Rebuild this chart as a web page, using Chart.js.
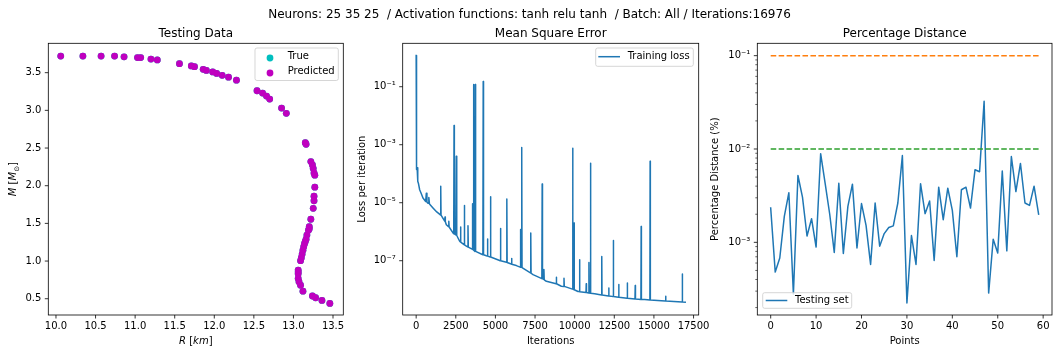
<!DOCTYPE html>
<html><head><meta charset="utf-8">
<script src="https://cdn.jsdelivr.net/npm/chart.js@4.4.0/dist/chart.umd.min.js"></script>
<style>
html,body{margin:0;padding:0;background:#fff;}
#wrap{position:relative;width:1059px;height:357px;overflow:hidden;background:#fff;}
canvas{position:absolute;left:0;top:0;}
</style></head><body>
<div id="wrap">
<canvas id="c1" width="1059" height="357"></canvas>
<canvas id="c2" width="1059" height="357"></canvas>
<canvas id="c3" width="1059" height="357"></canvas>
</div>
<script>
const FONT = "'DejaVu Sans', sans-serif";
const figTitle = "Neurons: 25 35 25  / Activation functions: tanh relu tanh  / Batch: All / Iterations:16976";

// ---------- Panel 1: Testing Data ----------
const predR = [10.06,10.34,10.57,10.74,10.86,11.03,11.07,11.20,11.28,11.56,11.71,11.75,11.86,11.90,11.98,12.03,12.10,12.18,12.28,12.54,12.61,12.66,12.70,12.85,12.91,
  13.15,13.16,13.22,13.24,13.25,13.26,13.27,13.27,13.26,13.26,13.25,13.22,13.20,13.20,13.19,13.17,13.16,13.15,13.14,13.13,13.12,13.11,13.10,13.09,
  13.06,13.06,13.06,13.06,13.07,13.09,13.12,13.24,13.28,13.36,13.46];
const predM = [3.72,3.72,3.72,3.72,3.71,3.70,3.70,3.68,3.67,3.62,3.59,3.58,3.545,3.53,3.51,3.49,3.465,3.44,3.40,3.26,3.23,3.19,3.15,3.03,2.96,
  2.57,2.55,2.32,2.275,2.23,2.17,2.14,1.98,1.86,1.80,1.70,1.555,1.456,1.43,1.41,1.345,1.29,1.26,1.23,1.19,1.145,1.093,1.044,1.005,
  0.88,0.855,0.83,0.77,0.725,0.68,0.60,0.536,0.513,0.478,0.438];
const trueR = [10.06,10.34,10.57,10.74,10.86,11.03,11.07,11.20,11.28,11.56,11.71,11.75,11.86,11.90,11.98,12.03,12.10,12.18,12.28,12.54,12.61,12.66,12.70,12.85,12.91,
  13.15,13.16,13.22,13.24,13.25,13.26,13.27,13.27,13.26,13.26,13.25,13.22,13.20,13.20,13.19,13.17,13.16,13.15,13.14,13.13,13.12,13.11,13.10,13.09,
  13.06,13.06,13.06,13.06,13.07,13.09,13.12,13.24,13.28,13.36,13.46];
const trueM = [3.72,3.72,3.72,3.72,3.71,3.70,3.70,3.68,3.67,3.62,3.59,3.58,3.545,3.53,3.51,3.49,3.465,3.44,3.40,3.26,3.23,3.19,3.15,3.03,2.96,
  2.57,2.55,2.32,2.275,2.23,2.17,2.14,1.98,1.86,1.80,1.70,1.555,1.456,1.43,1.41,1.345,1.29,1.26,1.23,1.19,1.145,1.093,1.044,1.005,
  0.88,0.855,0.83,0.77,0.725,0.68,0.60,0.536,0.513,0.478,0.438];
const p1XTicks = [10.0,10.5,11.0,11.5,12.0,12.5,13.0,13.5];
const p1YTicks = [0.5,1.0,1.5,2.0,2.5,3.0,3.5];

// ---------- Panel 2: Mean Square Error ----------
const mseIter = [0,4,8,13,18,24,32,40,53,62,85,116,150,221,300,431,600,641,680,760,800,840,1062,1300,
  1530,1550,1570,1800,1820,1840,1904,2040,2060,2080,2324,2370,2390,2410,2500,2530,2560,2745,2780,2800,2820,
  3020,3040,3060,3166,3250,3270,3290,3530,3550,3570,3600,3620,3640,3710,3730,3750,4210,4230,4250,4428,
  4480,4500,4520,4670,4690,4710,5269,5300,5320,5340,5700,5720,5740,6000,6020,6040,6321,6560,6580,6600,
  6640,6660,6680,7210,7230,7250,7373,7930,7950,7970,8040,8060,8080,8215,8830,8843,8860,9160,9310,9327,9345,
  9860,9875,9890,9945,9960,9975,10210,10295,10310,10325,10715,10730,10745,10885,10900,10915,10985,11000,11015,
  11263,11695,11710,11725,12135,12150,12165,12317,12425,12440,12455,12765,12780,12795,13305,13320,13335,
  13805,13820,13835,14180,14195,14210,14418,14745,14760,14775,15472,15725,15740,15755,16775,16790,16805,16976];
const mseLoss = [1.2,3e-3,5e-2,1.5e-3,8e-3,8e-4,3e-3,4e-4,1.4e-4,1.6e-4,7e-5,5.5e-5,4.5e-5,2.8e-5,2.2e-5,1.45e-5,1.1e-5,2.1e-5,1.05e-5,9.5e-6,1.5e-5,9e-6,6.6e-6,4.8e-6,
  3.8e-6,3.7e-5,3.7e-6,2.3e-6,3.2e-6,2.2e-6,1.74e-6,1.5e-6,2.3e-6,1.45e-6,9.1e-7,8.6e-7,4.6e-3,8.4e-7,7.8e-7,4e-4,7.4e-7,4.7e-7,4.5e-7,1.45e-6,4.4e-7,
  3.6e-7,8e-6,3.5e-7,3.2e-7,3.0e-7,1.6e-6,2.95e-7,2.5e-7,9.3e-6,2.45e-7,2.4e-7,0.12,2.3e-7,2.1e-7,0.12,2.1e-7,1.6e-7,0.15,1.6e-7,1.48e-7,
  1.45e-7,5.6e-7,1.44e-7,1.35e-7,1.6e-5,1.34e-7,1.02e-7,1.0e-7,1.3e-6,1.0e-7,8.8e-8,1.35e-5,8.7e-8,7.7e-8,1.2e-7,7.6e-8,6.8e-8,6.0e-8,1.2e-6,6.0e-8,
  5.9e-8,8e-4,5.8e-8,3.8e-8,9e-7,3.7e-8,3.3e-8,2.4e-8,4.4e-5,2.4e-8,2.3e-8,5e-8,2.2e-8,1.95e-8,1.6e-8,2.7e-8,1.6e-8,1.32e-8,1.3e-8,2.5e-8,1.3e-8,
  1.05e-8,7.6e-4,1.05e-8,1.0e-8,2e-6,1.0e-8,8.7e-9,8.6e-9,1.07e-7,8.5e-9,8.0e-9,1.6e-8,8.0e-9,7.7e-9,8.7e-8,7.7e-9,7.6e-9,2.3e-4,7.5e-9,
  7.2e-9,6.6e-9,1.4e-7,6.6e-9,6.1e-9,1.15e-8,6.1e-9,5.9e-9,5.8e-9,5e-7,5.8e-9,5.5e-9,1.5e-8,5.5e-9,5.1e-9,1.7e-8,5.1e-9,
  4.8e-9,1.4e-8,4.8e-9,4.6e-9,1.5e-6,4.6e-9,4.6e-9,4.4e-9,2.7e-4,4.4e-9,4.2e-9,4.1e-9,5.9e-9,4.1e-9,3.8e-9,3.5e-8,3.8e-9,3.7e-9];
const p2XTicks = [0,2500,5000,7500,10000,12500,15000,17500];
const p2YTicks = [1e-7,1e-5,1e-3,1e-1];

// ---------- Panel 3: Percentage Distance ----------
const pctPoints = [0,1,2,3,4,5,6,7,8,9,10,11,12,13,14,15,16,17,18,19,20,21,22,23,24,25,26,27,28,29,
  30,31,32,33,34,35,36,37,38,39,40,41,42,43,44,45,46,47,48,49,50,51,52,53,54,55,56,57,58,59];
const pctDist = [2.33e-3,4.8e-4,6.8e-4,1.9e-3,3.4e-3,2.8e-4,5.2e-3,3.05e-3,1.17e-3,1.79e-3,
  8.9e-4,8.9e-3,4.25e-3,2.0e-3,7.8e-4,4.3e-3,7.6e-4,2.43e-3,4.2e-3,8.7e-4,
  2.6e-3,1.52e-3,5.8e-4,2.64e-3,9.1e-4,1.24e-3,1.44e-3,1.5e-3,2.64e-3,8.5e-3,
  2.24e-4,1.18e-3,5.8e-4,4.25e-3,2.03e-3,2.77e-3,6.4e-4,3.9e-3,1.75e-3,3.8e-3,
  2.2e-3,7.0e-4,3.66e-3,3.9e-3,2.33e-3,6.0e-3,5.7e-3,3.24e-2,2.86e-4,1.08e-3,
  7.7e-4,5.8e-3,8.1e-4,8.3e-3,3.5e-3,7.0e-3,2.64e-3,2.49e-3,4.0e-3,2.0e-3];
const limitX = [0,59];
const limitHigh = [0.1,0.1];
const limitLow = [0.01,0.01];
const p3XTicks = [0,10,20,30,40,50,60];
const p3YTicks = [1e-3,1e-2,1e-1];
const p3YMinor = [2e-4,3e-4,4e-4,5e-4,6e-4,7e-4,8e-4,9e-4,2e-3,3e-3,4e-3,5e-3,6e-3,7e-3,8e-3,9e-3,2e-2,3e-2,4e-2,5e-2,6e-2,7e-2,8e-2,9e-2];

// ---------- helpers ----------
Chart.defaults.font.family = FONT;
const SUP = {'-':'\u207B','0':'\u2070','1':'\u00B9','2':'\u00B2','3':'\u00B3','4':'\u2074','5':'\u2075','6':'\u2076','7':'\u2077','8':'\u2078','9':'\u2079'};
function powLabel(v){ const e = Math.round(Math.log10(v)); return '10' + String(e).split('').map(c=>SUP[c]).join(''); }

function fontOf(p, base){ const size = p.sub ? base*0.7 : base; return (p.it ? 'italic ' : '') + size + 'px ' + FONT; }
function drawRich(ctx, parts, tx, ty, base, rotate){
  ctx.save();
  ctx.translate(tx, ty);
  if (rotate) ctx.rotate(-Math.PI/2);
  let w = 0;
  for (const p of parts){ ctx.font = fontOf(p, base); w += ctx.measureText(p.t).width; }
  let x = -w/2;
  ctx.textAlign = 'left'; ctx.textBaseline = 'alphabetic'; ctx.fillStyle = '#000';
  for (const p of parts){ ctx.font = fontOf(p, base); ctx.fillText(p.t, x, p.sub ? base*0.22 : 0); x += ctx.measureText(p.t).width; }
  ctx.restore();
}
function legendBox(ctx, x0, y0, x1, y1){
  const r = 2;
  ctx.save();
  ctx.beginPath();
  ctx.moveTo(x0+r,y0); ctx.lineTo(x1-r,y0); ctx.arcTo(x1,y0,x1,y0+r,r);
  ctx.lineTo(x1,y1-r); ctx.arcTo(x1,y1,x1-r,y1,r);
  ctx.lineTo(x0+r,y1); ctx.arcTo(x0,y1,x0,y1-r,r);
  ctx.lineTo(x0,y0+r); ctx.arcTo(x0,y0,x0+r,y0,r);
  ctx.closePath();
  ctx.fillStyle = 'rgba(255,255,255,0.8)'; ctx.fill();
  ctx.strokeStyle = 'rgba(204,204,204,0.8)'; ctx.lineWidth = 1; ctx.stroke();
  ctx.restore();
}
function legendText(ctx, t, x, y){
  ctx.save(); ctx.font = '10px ' + FONT; ctx.fillStyle = '#000'; ctx.textAlign='left'; ctx.textBaseline='middle';
  ctx.fillText(t, x, y); ctx.restore();
}

function makeDeco(cfg){
  return {
    id: 'deco',
    afterDraw(chart){
      const ctx = chart.ctx, a = chart.chartArea, xs = chart.scales.x, ys = chart.scales.y;
      ctx.save();
      ctx.strokeStyle = '#000'; ctx.lineWidth = 0.8;
      ctx.beginPath();
      xs.ticks.forEach(t => { const p = xs.getPixelForValue(t.value); ctx.moveTo(p, a.bottom); ctx.lineTo(p, a.bottom + 3.5); });
      ys.ticks.forEach(t => { const p = ys.getPixelForValue(t.value); ctx.moveTo(a.left, p); ctx.lineTo(a.left - 3.5, p); });
      ctx.stroke();
      if (cfg.yMinor){
        ctx.lineWidth = 0.6; ctx.beginPath();
        cfg.yMinor.forEach(v => { const p = ys.getPixelForValue(v); ctx.moveTo(a.left, p); ctx.lineTo(a.left - 2, p); });
        ctx.stroke();
      }
      ctx.lineWidth = 0.8;
      ctx.strokeRect(a.left, a.top, a.right - a.left, a.bottom - a.top);
      // title
      ctx.fillStyle = '#000'; ctx.font = '12px ' + FONT; ctx.textAlign = 'center'; ctx.textBaseline = 'alphabetic';
      ctx.fillText(cfg.title, (a.left + a.right)/2, 36.8);
      if (cfg.figTitle) ctx.fillText(cfg.figTitle, 529.5, 18.3);
      // axis labels
      drawRich(ctx, cfg.xlabel, (a.left + a.right)/2, 344, 10, false);
      drawRich(ctx, cfg.ylabel, cfg.ylabelX, (a.top + a.bottom)/2, 10, true);
      ctx.restore();
      cfg.legend(ctx);
    }
  };
}

function makeOptions(area, xCfg, yCfg){
  const YW = 40, XH = 30;
  const tickFont = {family: FONT, size: 10};
  function scale(c, isX){
    const s = {
      type: c.type, position: isX ? 'bottom' : 'left', bounds: 'data',
      min: c.min, max: c.max,
      grid: {display: false, drawTicks: false, tickLength: 0},
      border: {display: false},
      ticks: {font: tickFont, color: '#000', padding: isX ? 5 : 7, autoSkip: false, maxRotation: 0, minRotation: 0,
              callback: c.fmt},
      afterBuildTicks: sc => { sc.ticks = c.ticks.map(v => ({value: v})); },
      afterFit: sc => { if (isX) sc.height = XH; else sc.width = YW; }
    };
    return s;
  }
  return {
    responsive: false, animation: false, devicePixelRatio: 1, events: [],
    layout: {padding: {left: area.l - YW, top: area.t, right: 1059 - area.r, bottom: 357 - area.b - XH}},
    plugins: {legend: {display: false}, tooltip: {enabled: false}, title: {display: false}},
    scales: {x: scale(xCfg, true), y: scale(yCfg, false)}
  };
}

// ---------- Chart 1 ----------
new Chart(document.getElementById('c1'), {
  type: 'scatter',
  data: {datasets: [
    {label: 'True', order: 1, data: trueR.map((r,i)=>({x:r, y:trueM[i]})), backgroundColor: '#00bfbf', borderWidth: 0, pointRadius: 3.4},
    {label: 'Predicted', order: 0, data: predR.map((r,i)=>({x:r, y:predM[i]})), backgroundColor: '#bf00bf', borderWidth: 0, pointRadius: 3.4}
  ]},
  options: makeOptions({l:48.3, t:43.3, r:343.3, b:315},
    {type:'linear', min:9.903, max:13.63, ticks:p1XTicks, fmt: v => Number(v).toFixed(1)},
    {type:'linear', min:0.284, max:3.89, ticks:p1YTicks, fmt: v => Number(v).toFixed(1)}),
  plugins: [makeDeco({
    title: 'Testing Data', figTitle: figTitle,
    xlabel: [{t:'R', it:true},{t:' ['},{t:'km', it:true},{t:']'}],
    ylabel: [{t:'M', it:true},{t:' ['},{t:'M', it:true},{t:'\u2299', sub:true},{t:']'}],
    ylabelX: 16.3,
    legend: ctx => {
      legendBox(ctx, 255, 48, 338.3, 80.5);
      ctx.save();
      ctx.fillStyle = '#00bfbf'; ctx.beginPath(); ctx.arc(270, 58, 3.4, 0, Math.PI*2); ctx.fill();
      ctx.fillStyle = '#bf00bf'; ctx.beginPath(); ctx.arc(270, 73, 3.4, 0, Math.PI*2); ctx.fill();
      ctx.restore();
      legendText(ctx, 'True', 287.7, 56.3);
      legendText(ctx, 'Predicted', 287.7, 71.3);
    }
  })]
});

// ---------- Chart 2 ----------
new Chart(document.getElementById('c2'), {
  type: 'line',
  data: {datasets: [
    {label: 'Training loss', data: mseIter.map((x,i)=>({x:x, y:mseLoss[i]})), borderColor: '#1f77b4', borderWidth: 1.5,
     pointRadius: 0, tension: 0, fill: false, borderJoinStyle: 'round', borderCapStyle: 'square'}
  ]},
  options: makeOptions({l:402.7, t:43.3, r:698.7, b:315},
    {type:'linear', min:-849, max:17825, ticks:p2XTicks, fmt: v => String(Math.round(v))},
    {type:'logarithmic', min:Math.pow(10,-8.872), max:Math.pow(10,0.497), ticks:p2YTicks, fmt: v => powLabel(v)}),
  plugins: [makeDeco({
    title: 'Mean Square Error',
    xlabel: [{t:'Iterations'}],
    ylabel: [{t:'Loss per iteration'}],
    ylabelX: 364.7,
    legend: ctx => {
      legendBox(ctx, 595.7, 48, 693.3, 66.3);
      ctx.save(); ctx.strokeStyle = '#1f77b4'; ctx.lineWidth = 1.5; ctx.beginPath(); ctx.moveTo(598.3, 56.7); ctx.lineTo(620, 56.7); ctx.stroke(); ctx.restore();
      legendText(ctx, 'Training loss', 627.7, 56.3);
    }
  })]
});

// ---------- Chart 3 ----------
new Chart(document.getElementById('c3'), {
  type: 'line',
  data: {datasets: [
    {label: 'Testing set', order: 2, data: pctPoints.map((x,i)=>({x:x, y:pctDist[i]})), borderColor: '#1f77b4', borderWidth: 1.5,
     pointRadius: 0, tension: 0, fill: false, borderJoinStyle: 'round', borderCapStyle: 'square'},
    {label: 'high', order: 1, data: limitX.map((x,i)=>({x:x, y:limitHigh[i]})), borderColor: '#ff7f0e', borderWidth: 1.5,
     borderDash: [5.55, 2.4], pointRadius: 0, fill: false},
    {label: 'low', order: 0, data: limitX.map((x,i)=>({x:x, y:limitLow[i]})), borderColor: '#2ca02c', borderWidth: 1.5,
     borderDash: [5.55, 2.4], pointRadius: 0, fill: false}
  ]},
  options: makeOptions({l:757.3, t:43.3, r:1052, b:315},
    {type:'linear', min:-2.95, max:61.95, ticks:p3XTicks, fmt: v => String(Math.round(v))},
    {type:'logarithmic', min:Math.pow(10,-3.7786), max:Math.pow(10,-0.8675), ticks:p3YTicks, fmt: v => powLabel(v)}),
  plugins: [makeDeco({
    title: 'Percentage Distance',
    xlabel: [{t:'Points'}],
    ylabel: [{t:'Percentage Distance (%)'}],
    ylabelX: 718.3,
    yMinor: p3YMinor,
    legend: ctx => {
      legendBox(ctx, 762.7, 292.7, 851.7, 308.3);
      ctx.save(); ctx.strokeStyle = '#1f77b4'; ctx.lineWidth = 1.5; ctx.beginPath(); ctx.moveTo(765.7, 300.5); ctx.lineTo(787.3, 300.5); ctx.stroke(); ctx.restore();
      legendText(ctx, 'Testing set', 795, 300);
    }
  })]
});
</script>
</body></html>
